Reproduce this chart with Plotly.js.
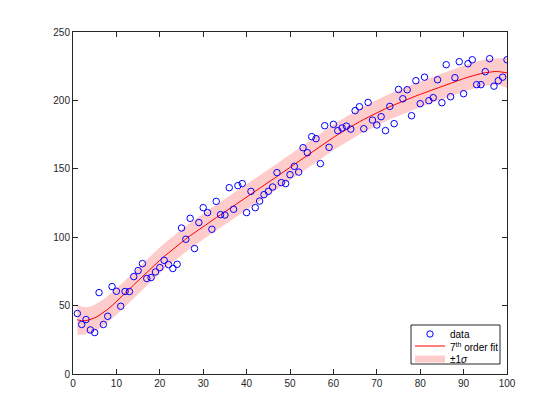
<!DOCTYPE html>
<html>
<head>
<meta charset="utf-8">
<script src="https://cdn.plot.ly/plotly-3.0.1.min.js"></script>
<style>html,body{margin:0;padding:0;background:#fff;}#plot{width:560px;height:420px;}</style>
</head>
<body>
<div id="plot"></div>
<script>
var xData = [1,2,3,4,5,6,7,8,9,10,11,12,13,14,15,16,17,18,19,20,
  21,22,23,24,25,26,27,28,29,30,31,32,33,34,35,36,37,38,39,40,
  41,42,43,44,45,46,47,48,49,50,51,52,53,54,55,56,57,58,59,60,
  61,62,63,64,65,66,67,68,69,70,71,72,73,74,75,76,77,78,79,80,
  81,82,83,84,85,86,87,88,89,90,91,92,93,94,95,96,97,98,99,100];
var yData = [44.2,36.2,39.8,32.2,30.3,59.5,36.2,42.2,63.9,60.5,
  49.5,60.3,60.3,71.2,75.6,80.7,69.8,70.5,74.6,77.8,
  83.1,80.0,77.1,80.2,106.7,98.5,113.8,91.7,110.7,121.6,
  118.0,105.8,126.2,116.5,116.2,136.2,120.4,137.7,139.2,118.0,
  133.5,121.6,126.4,131.1,133.5,136.7,147.2,139.9,139.2,145.7,
  151.8,147.6,165.4,161.8,173.5,172.0,153.8,181.5,165.7,182.5,
  177.9,179.8,181.2,179.0,192.5,195.4,179.3,198.5,185.6,182.0,
  188.1,177.9,195.6,183.0,208.0,201.2,207.8,188.8,214.4,197.6,
  217.0,199.8,202.0,215.1,198.3,226.1,202.7,216.6,228.3,204.9,
  226.8,229.7,211.5,211.5,221.0,230.5,210.4,214.4,217.0,229.7];
var fitOrder = 7;
var xTicks = [0,10,20,30,40,50,60,70,80,90,100];
var yTicks = [0,50,100,150,200,250];
var legendNames = ['data', '7<sup>th</sup> order fit', '\u00b11<i>\u03c3</i>'];

// Least-squares polynomial fit (like MATLAB polyfit/polyval with S)
function polyFit(x, y, n) {
  var m = x.length, i, j, k;
  var mid = (x[0] + x[m-1]) / 2, half = (x[m-1] - x[0]) / 2;
  var cols = [];
  for (j = 0; j <= n; j++) {
    var c = [];
    for (i = 0; i < m; i++) c.push(Math.pow((x[i]-mid)/half, j));
    cols.push(c);
  }
  var Q = [];
  for (j = 0; j <= n; j++) {
    var v = cols[j].slice();
    for (var pass = 0; pass < 2; pass++) {
      for (k = 0; k < j; k++) {
        var d = 0;
        for (i = 0; i < m; i++) d += Q[k][i]*v[i];
        for (i = 0; i < m; i++) v[i] -= d*Q[k][i];
      }
    }
    var nr = 0;
    for (i = 0; i < m; i++) nr += v[i]*v[i];
    nr = Math.sqrt(nr);
    for (i = 0; i < m; i++) v[i] /= nr;
    Q.push(v);
  }
  var qty = [];
  for (j = 0; j <= n; j++) {
    var s = 0;
    for (i = 0; i < m; i++) s += Q[j][i]*y[i];
    qty.push(s);
  }
  var fit = [], res2 = 0;
  for (i = 0; i < m; i++) {
    var f = 0;
    for (j = 0; j <= n; j++) f += Q[j][i]*qty[j];
    fit.push(f);
    res2 += (y[i]-f)*(y[i]-f);
  }
  var sd = Math.sqrt(res2 / (m - n - 1));
  var delta = [];
  for (i = 0; i < m; i++) {
    var h = 0;
    for (j = 0; j <= n; j++) h += Q[j][i]*Q[j][i];
    delta.push(Math.sqrt(1 + h) * sd);
  }
  return {fit: fit, delta: delta};
}

var pf = polyFit(xData, yData, fitOrder);
var lower = pf.fit.map(function(v, i){ return v - pf.delta[i]; });
var upper = pf.fit.map(function(v, i){ return v + pf.delta[i]; });

var band = '#ffcccc';
var dataColor = '#0000ff';
var fitColor = '#ff0000';
var traces = [
  {x: xData, y: lower, type: 'scatter', mode: 'lines', line: {width: 0, color: band},
   showlegend: false, hoverinfo: 'skip'},
  {x: xData, y: upper, type: 'scatter', mode: 'lines', line: {width: 0, color: band},
   fill: 'tonexty', fillcolor: band, name: legendNames[2], showlegend: false},
  {x: xData, y: pf.fit, type: 'scatter', mode: 'lines', line: {width: 1, color: fitColor},
   name: legendNames[1], showlegend: false},
  {x: xData, y: yData, type: 'scatter', mode: 'markers',
   marker: {symbol: 'circle-open', size: 6.5, color: dataColor, line: {width: 1, color: dataColor}},
   name: legendNames[0], showlegend: false}
];

// plot area geometry (pixels)
var W = 560, H = 420, ML = 73, MR = 53, MT = 32, MB = 46;
var PW = W - ML - MR, PH = H - MT - MB;
function px(p) { return (p - ML) / PW; }
function py(p) { return (H - MB - p) / PH; }

// custom MATLAB-like legend box
var lg = {left: 411, right: 500, top: 325, bottom: 364, symL: 415, symR: 445, textX: 447.5,
  rows: [334, 347, 359]};
var font = {family: 'Liberation Sans, Arial, sans-serif', size: 10, color: '#000000'};
var shapes = [
  {type: 'rect', xref: 'paper', yref: 'paper', layer: 'above',
   x0: px(lg.left), x1: px(lg.right), y0: py(lg.bottom), y1: py(lg.top),
   line: {color: '#262626', width: 1}, fillcolor: '#ffffff'},
  {type: 'circle', xref: 'paper', yref: 'paper', layer: 'above',
   x0: px(430 - 3.2), x1: px(430 + 3.2), y0: py(lg.rows[0] + 3.2), y1: py(lg.rows[0] - 3.2),
   line: {color: dataColor, width: 1}, fillcolor: 'rgba(0,0,0,0)'},
  {type: 'line', xref: 'paper', yref: 'paper', layer: 'above',
   x0: px(lg.symL), x1: px(lg.symR), y0: py(lg.rows[1] - 1), y1: py(lg.rows[1] - 1),
   line: {color: fitColor, width: 1}},
  {type: 'rect', xref: 'paper', yref: 'paper', layer: 'above',
   x0: px(lg.symL), x1: px(lg.symR), y0: py(lg.rows[2] + 3.5), y1: py(lg.rows[2] - 3.5),
   line: {width: 0}, fillcolor: band}
];
var annotations = legendNames.map(function(t, i) {
  return {text: t, xref: 'paper', yref: 'paper', x: px(lg.textX), y: py(lg.rows[i]),
    xanchor: 'left', yanchor: 'middle', showarrow: false, font: font};
});

var axisCommon = {
  showgrid: false, zeroline: false, showline: true, mirror: 'ticks',
  linecolor: '#262626', linewidth: 1, ticks: 'inside', ticklen: 5, tickwidth: 1,
  tickcolor: '#262626', tickfont: {family: 'Liberation Sans, Arial, sans-serif', size: 10, color: '#262626'}
};

var layout = {
  width: W, height: H,
  margin: {l: ML, r: MR, t: MT, b: MB},
  paper_bgcolor: '#ffffff', plot_bgcolor: '#ffffff',
  showlegend: false,
  xaxis: Object.assign({}, axisCommon, {range: [0, 100], tickvals: xTicks, ticktext: xTicks.map(String)}),
  yaxis: Object.assign({}, axisCommon, {range: [0, 250], tickvals: yTicks, ticktext: yTicks.map(String)}),
  shapes: shapes,
  annotations: annotations
};

Plotly.newPlot('plot', traces, layout, {displayModeBar: false, staticPlot: true});
</script>
</body>
</html>
